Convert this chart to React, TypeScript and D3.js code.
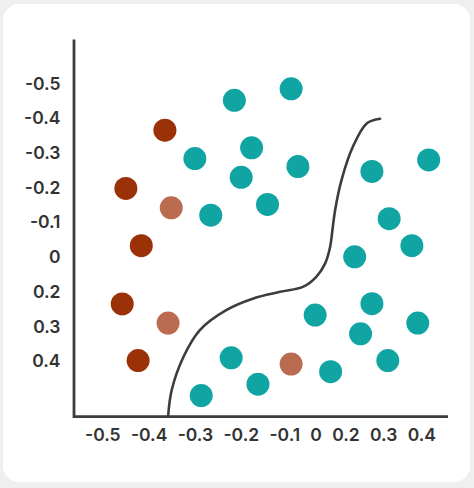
import React, { useEffect, useRef } from "react";
import * as d3 from "d3";

const W = 474;
const H = 488;

// tick labels
const yTickLabels = ["-0.5", "-0.4", "-0.3", "-0.2", "-0.1", "0", "0.2", "0.3", "0.4"];
const xTickLabels = ["-0.5", "-0.4", "-0.3", "-0.2", "-0.1", "0", "0.2", "0.3", "0.4"];

// class A (teal) points
const tealX = [-0.210, -0.085, -0.297, -0.172, -0.070, -0.195, -0.137, -0.262, 0.218, 0.093, 0.131, 0.181, 0.055, 0.093, -0.032, 0.194, 0.068, 0.128, 0.002, -0.217, -0.158, -0.283];
const tealY = [-0.451, -0.484, -0.283, -0.314, -0.260, -0.229, -0.151, -0.120, -0.279, -0.246, -0.110, -0.032, 0.000, 0.135, 0.168, 0.191, 0.222, 0.299, 0.331, 0.291, 0.367, 0.400];
// class B (dark red) points
const redX = [-0.363, -0.449, -0.415, -0.457, -0.422];
const redY = [-0.365, -0.197, -0.032, 0.136, 0.299];
// misclassified (light brown) points
const brownX = [-0.349, -0.356, -0.085];
const brownY = [-0.141, 0.191, 0.309];
// decision boundary
const boundaryX = [-0.356, -0.348, -0.322, -0.286, -0.227, -0.168, -0.109, -0.058, -0.029, -0.010, 0.001, 0.006, 0.012, 0.026, 0.051, 0.082, 0.111];
const boundaryY = [0.461, 0.384, 0.288, 0.211, 0.153, 0.120, 0.101, 0.086, 0.057, 0.019, -0.029, -0.077, -0.135, -0.221, -0.317, -0.385, -0.398];

const TEAL = "#10a5a2";
const RED = "#9a3107";
const BROWN = "#bb6c50";
const AXIS = "#3d3d3d";
const TEXT = "#333333";
const FONT = "Inter, 'Noto Sans', sans-serif";
const FS = 17.5;

export default function App() {
  const ref = useRef<SVGSVGElement | null>(null);

  useEffect(() => {
    const svg = d3.select(ref.current);
    svg.selectAll("*").remove();

    // background & card
    svg.append("rect").attr("width", W).attr("height", H).attr("fill", "#efefef");
    svg.append("rect").attr("x", 3).attr("y", 4).attr("width", W - 7).attr("height", H - 10).attr("rx", 16).attr("fill", "#ffffff");

    const x = d3.scaleLinear().domain([-0.5, -0.1]).range([102.7, 284.3]);
    const y = d3.scaleLinear().domain([-0.5, 0.3]).range([83.3, 360.9]);
    const yTickScale = d3.scalePoint<string>().domain(yTickLabels).range([y(-0.5), y(0.3)]);

    const axisX0 = 74;
    const axisY0 = 416.7;

    // y tick labels
    svg.append("g")
      .selectAll("text")
      .data(yTickLabels)
      .join("text")
      .attr("x", 60.5)
      .attr("y", (d) => yTickScale(d)!)
      .attr("dy", "0.36em")
      .attr("text-anchor", "end")
      .attr("font-family", FONT)
      .attr("font-size", FS)
      .attr("font-weight", 600)
      .attr("fill", TEXT)
      .text((d) => d);

    // x tick labels, laid out as a row filling [86, 435]
    const gx = svg.append("g");
    const xt = gx.selectAll("text")
      .data(xTickLabels)
      .join("text")
      .attr("y", 435)
      .attr("dy", "0.36em")
      .attr("font-family", FONT)
      .attr("font-size", FS)
      .attr("font-weight", 600)
      .attr("fill", TEXT)
      .text((d) => d);
    const widths: number[] = [];
    xt.each(function () {
      widths.push((this as SVGTextElement).getComputedTextLength());
    });
    const left = 85;
    const right = 436;
    const total = d3.sum(widths);
    const gap = (right - left - total) / (widths.length - 1);
    let cur = left;
    const xs: number[] = [];
    widths.forEach((w) => {
      xs.push(cur);
      cur += w + gap;
    });
    xt.attr("x", (_d, i) => xs[i]);

    // axes
    svg.append("path")
      .attr("d", `M${axisX0},39.5V${axisY0}H448`)
      .attr("fill", "none")
      .attr("stroke", AXIS)
      .attr("stroke-width", 2.8);

    // boundary curve
    const line = d3.line<number>()
      .x((_d, i) => x(boundaryX[i]))
      .y((_d, i) => y(boundaryY[i]))
      .curve(d3.curveCatmullRom.alpha(0.5));
    svg.append("path")
      .attr("d", line(boundaryX))
      .attr("fill", "none")
      .attr("stroke", AXIS)
      .attr("stroke-width", 2.6)
      .attr("stroke-linecap", "round");

    const r = 11.5;
    const drawPts = (xsArr: number[], ysArr: number[], color: string) => {
      svg.append("g")
        .selectAll("circle")
        .data(xsArr)
        .join("circle")
        .attr("cx", (d) => x(d))
        .attr("cy", (_d, i) => y(ysArr[i]))
        .attr("r", r)
        .attr("fill", color);
    };
    drawPts(tealX, tealY, TEAL);
    drawPts(redX, redY, RED);
    drawPts(brownX, brownY, BROWN);
  }, []);

  return (
    <div style={{ position: "fixed", left: 0, top: 0, width: W, height: H }}>
      <svg ref={ref} width={W} height={H} style={{ display: "block" }} />
    </div>
  );
}
